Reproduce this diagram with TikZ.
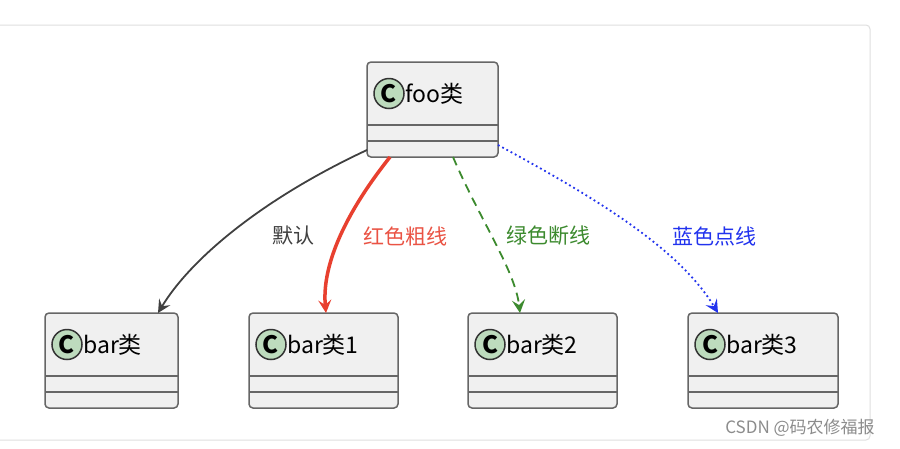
\documentclass[tikz,border=0pt]{standalone}
\usepackage{fontspec}
\setmainfont{Noto Sans CJK SC}
\usetikzlibrary{arrows.meta}
\definecolor{cred}{HTML}{E8402F}
\definecolor{cgreen}{HTML}{3C8A2E}
\definecolor{cblue}{HTML}{2233EE}
\tikzset{x=1pt,y=-1pt,
 cls/.style={draw=gray!80!black,fill=gray!12,rounded corners=4pt,line width=1.5pt},
 circ/.style={circle,draw=black!80,fill=green!30!gray!40,line width=1.5pt,minimum size=30pt,inner sep=0pt,font=\fontsize{24}{26}\selectfont\bfseries},
 lbl/.style={font=\fontsize{21}{24}\selectfont},
 tip/.style={-{Stealth[length=13pt,width=13pt,inset=5pt]}}}
\newcommand{\classbox}[6]{% name, x1,x2,y1,y2(header bottom), text
 \draw[cls] (#2,#4) rectangle (#3,#5+32);
 \draw[gray!80!black,line width=1.5pt] (#2,#5) -- (#3,#5) (#2,#5+16) -- (#3,#5+16);
 \coordinate (#1) at ({(#2+#3)/2},{(#4+#5+32)/2});
 \node[circ] (#1c) at (#2+22,{(#4+#5)/2}) {C};
 \node[anchor=west,font=\fontsize{23}{26}\selectfont,inner sep=0pt] (#1t) at (#2+38,{(#4+#5)/2}) {#6};
}
\begin{document}
\begin{tikzpicture}
\useasboundingbox (0,0) rectangle (900,448);
\fill[white] (0,0) rectangle (900,448);
\draw[gray!25,line width=1pt,rounded corners=4pt] (-5,25) rectangle (870,440);
\classbox{foo}{367}{498}{62}{125}{foo类}
\classbox{b0}{45}{178}{313}{376}{bar类}
\classbox{b1}{249}{398}{313}{376}{bar类1}
\classbox{b2}{468}{617}{313}{376}{bar类2}
\classbox{b3}{688}{838}{313}{376}{bar类3}
\coordinate (f0) at (367,150); \coordinate (t0) at (158,313);
\coordinate (f1) at (390,157); \coordinate (t1) at (326,313);
\coordinate (f2) at (453,157); \coordinate (t2) at (520,313);
\coordinate (f3) at (498,145); \coordinate (t3) at (718,313);
\draw[tip,black!75,line width=1.8pt] (f0) .. controls (260,200) and (190,260) .. (t0);
\draw[tip,cred,line width=3.5pt] (f1) .. controls (340,220) and (322,270) .. (t1);
\draw[tip,cgreen,line width=1.8pt,dash pattern=on 9pt off 6pt] (f2) .. controls (480,220) and (515,270) .. (t2);
\draw[tip,cblue,line width=1.8pt,dash pattern=on 1.8pt off 3pt] (f3) .. controls (600,200) and (680,250) .. (t3);
\node[lbl,text=black!75] (l0) at (293,236) {默认};
\node[lbl,text=cred!90] (l1) at (405,236) {红色粗线};
\node[lbl,text=cgreen] (l2) at (548,236) {绿色断线};
\node[lbl,text=cblue] (l3) at (714,236) {蓝色点线};
\node[font=\fontsize{17}{20}\selectfont,text=gray!90] (wm) at (800,428) {CSDN @码农修福报};
\end{tikzpicture}
\end{document}
